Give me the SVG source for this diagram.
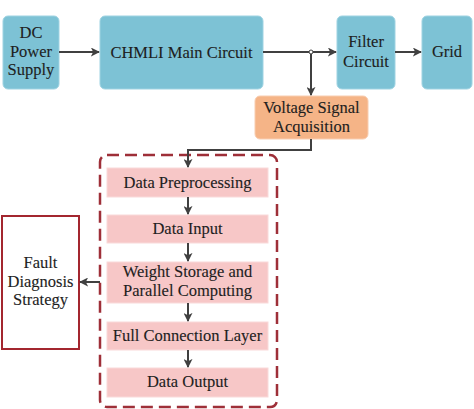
<svg xmlns="http://www.w3.org/2000/svg" width="474" height="409" viewBox="0 0 474 409">
<defs>
<style>
text{font-family:"Liberation Serif","DejaVu Serif",Tinos,"Times New Roman",serif;font-size:16.5px;fill:#1e1e1e;stroke:#1e1e1e;stroke-width:0.12;text-anchor:middle}
.blue{fill:#7dc2d5;stroke:#9fd3e2;stroke-width:1}
.pink{fill:#f7c7c7;stroke:#f9dada;stroke-width:1}
.orange{fill:#f5b487;stroke:#f8cdb0;stroke-width:1}
.ln{fill:none;stroke:#404040;stroke-width:2}
</style>
<marker id="ah" viewBox="0 0 10 10" refX="9" refY="5" markerWidth="4.5" markerHeight="4.5" orient="auto" markerUnits="strokeWidth">
<path d="M0,0 L10,5 L0,10 L2.5,5 Z" fill="#404040"/>
</marker>
</defs>
<rect width="474" height="409" fill="#ffffff"/>

<g id="dc">
<rect class="blue" x="3" y="16" width="56" height="73" rx="5"/>
<text x="31" y="38">DC</text>
<text x="31" y="57">Power</text>
<text x="31" y="75">Supply</text>
</g>
<g id="chmli">
<rect class="blue" x="100" y="16" width="163" height="73" rx="5"/>
<text x="181.5" y="58">CHMLI Main Circuit</text>
</g>
<g id="filter">
<rect class="blue" x="337" y="16" width="58" height="73" rx="5"/>
<text x="366" y="47">Filter</text>
<text x="366" y="67">Circuit</text>
</g>
<g id="grid">
<rect class="blue" x="422" y="16" width="50" height="73" rx="5"/>
<text x="447" y="57">Grid</text>
</g>
<g id="voltage">
<rect class="orange" x="255" y="96" width="113" height="43" rx="5"/>
<text x="311.5" y="113">Voltage Signal</text>
<text x="311.5" y="132">Acquisition</text>
</g>
<g id="cnn">
<rect x="100" y="155" width="177" height="252" rx="7" fill="none" stroke="#9e2f38" stroke-width="2.5" stroke-dasharray="12 6"/>
</g>
<g id="preprocessing">
<rect class="pink" x="107" y="168" width="161" height="29"/>
<text x="187.5" y="187.5">Data Preprocessing</text>
</g>
<g id="input">
<rect class="pink" x="107" y="215" width="161" height="28"/>
<text x="187.5" y="234">Data Input</text>
</g>
<g id="weight">
<rect class="pink" x="107" y="262" width="161" height="41"/>
<text x="187.5" y="277">Weight Storage and</text>
<text x="187.5" y="296">Parallel Computing</text>
</g>
<g id="fullconn">
<rect class="pink" x="107" y="322" width="161" height="28"/>
<text x="187.5" y="341">Full Connection Layer</text>
</g>
<g id="output">
<rect class="pink" x="107" y="368" width="161" height="29"/>
<text x="187.5" y="387">Data Output</text>
</g>
<g id="fault">
<rect x="2" y="216" width="77" height="133" fill="#ffffff" stroke="#a3262f" stroke-width="2"/>
<text x="40.5" y="268">Fault</text>
<text x="40.5" y="287">Diagnosis</text>
<text x="40.5" y="305">Strategy</text>
</g>

<g id="connectors">
<line class="ln" x1="59" y1="52" x2="99" y2="52" marker-end="url(#ah)"/>
<line class="ln" x1="263" y1="52" x2="336" y2="52" marker-end="url(#ah)"/>
<line class="ln" x1="395" y1="52" x2="421" y2="52" marker-end="url(#ah)"/>
<line class="ln" x1="311" y1="52" x2="311" y2="95" marker-end="url(#ah)"/>
<circle cx="311" cy="52" r="2" fill="#ffffff" stroke="#404040" stroke-width="1"/>
<polyline class="ln" points="311,139 311,150 188,150 188,167" marker-end="url(#ah)"/>
<line class="ln" x1="188" y1="197" x2="188" y2="214" marker-end="url(#ah)"/>
<line class="ln" x1="188" y1="243" x2="188" y2="261" marker-end="url(#ah)"/>
<line class="ln" x1="188" y1="303" x2="188" y2="321" marker-end="url(#ah)"/>
<line class="ln" x1="188" y1="350" x2="188" y2="367" marker-end="url(#ah)"/>
<line class="ln" x1="100" y1="282" x2="80" y2="282" marker-end="url(#ah)"/>
</g>
</svg>
